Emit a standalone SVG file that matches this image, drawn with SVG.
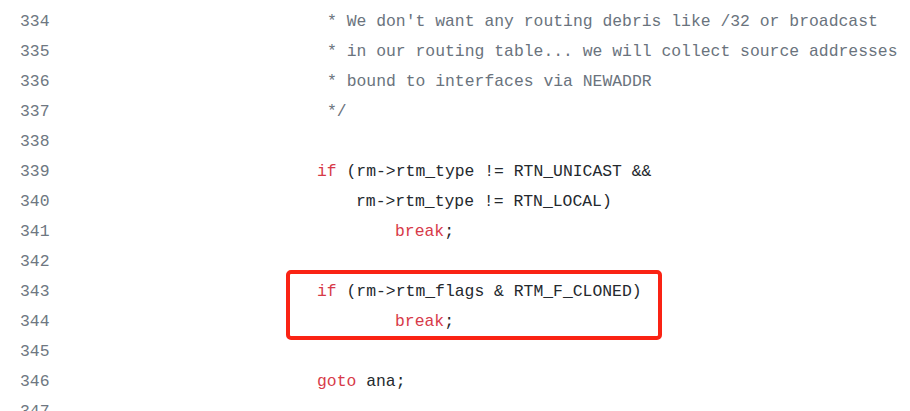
<svg xmlns="http://www.w3.org/2000/svg" width="910" height="411" viewBox="0 0 910 411">
<style>
text{font-family:"Liberation Mono","DejaVu Sans Mono",monospace;font-size:16.4px;white-space:pre}
.n{fill:#6e7781}
.c{fill:#6a737d}
.t{fill:#24292e}
.k{fill:#d73a49}
</style>
<rect width="910" height="411" fill="#fff"/>
<g id="numbers">
<text class="n" x="20" y="26">334</text>
<text class="n" x="20" y="56">335</text>
<text class="n" x="20" y="86">336</text>
<text class="n" x="20" y="116">337</text>
<text class="n" x="20" y="146">338</text>
<text class="n" x="20" y="176">339</text>
<text class="n" x="20" y="206">340</text>
<text class="n" x="20" y="236">341</text>
<text class="n" x="20" y="266">342</text>
<text class="n" x="20" y="296">343</text>
<text class="n" x="20" y="326">344</text>
<text class="n" x="20" y="356">345</text>
<text class="n" x="20" y="386">346</text>
<text class="n" x="20" y="416">347</text>
</g>
<g id="code">
<text class="c" x="327" y="26">* We don't want any routing debris like /32 or broadcast</text>
<text class="c" x="327" y="56">* in our routing table... we will collect source addresses</text>
<text class="c" x="327" y="86">* bound to interfaces via NEWADDR</text>
<text class="c" x="327" y="116">*/</text>
<text class="t" x="317" y="176"><tspan class="k">if</tspan> (rm-&gt;rtm_type != RTN_UNICAST &amp;&amp;</text>
<text class="t" x="356" y="206">rm-&gt;rtm_type != RTN_LOCAL)</text>
<text class="k" x="395" y="236">break<tspan class="t">;</tspan></text>
<text class="t" x="317" y="296"><tspan class="k">if</tspan> (rm-&gt;rtm_flags &amp; RTM_F_CLONED)</text>
<text class="k" x="395" y="326">break<tspan class="t">;</tspan></text>
<text class="t" x="317" y="386"><tspan class="k">goto</tspan> ana;</text>
</g>
<g id="highlight">
<rect x="288" y="272" width="372" height="66" rx="3" fill="none" stroke="#fa2314" stroke-width="4"/>
</g>
</svg>
